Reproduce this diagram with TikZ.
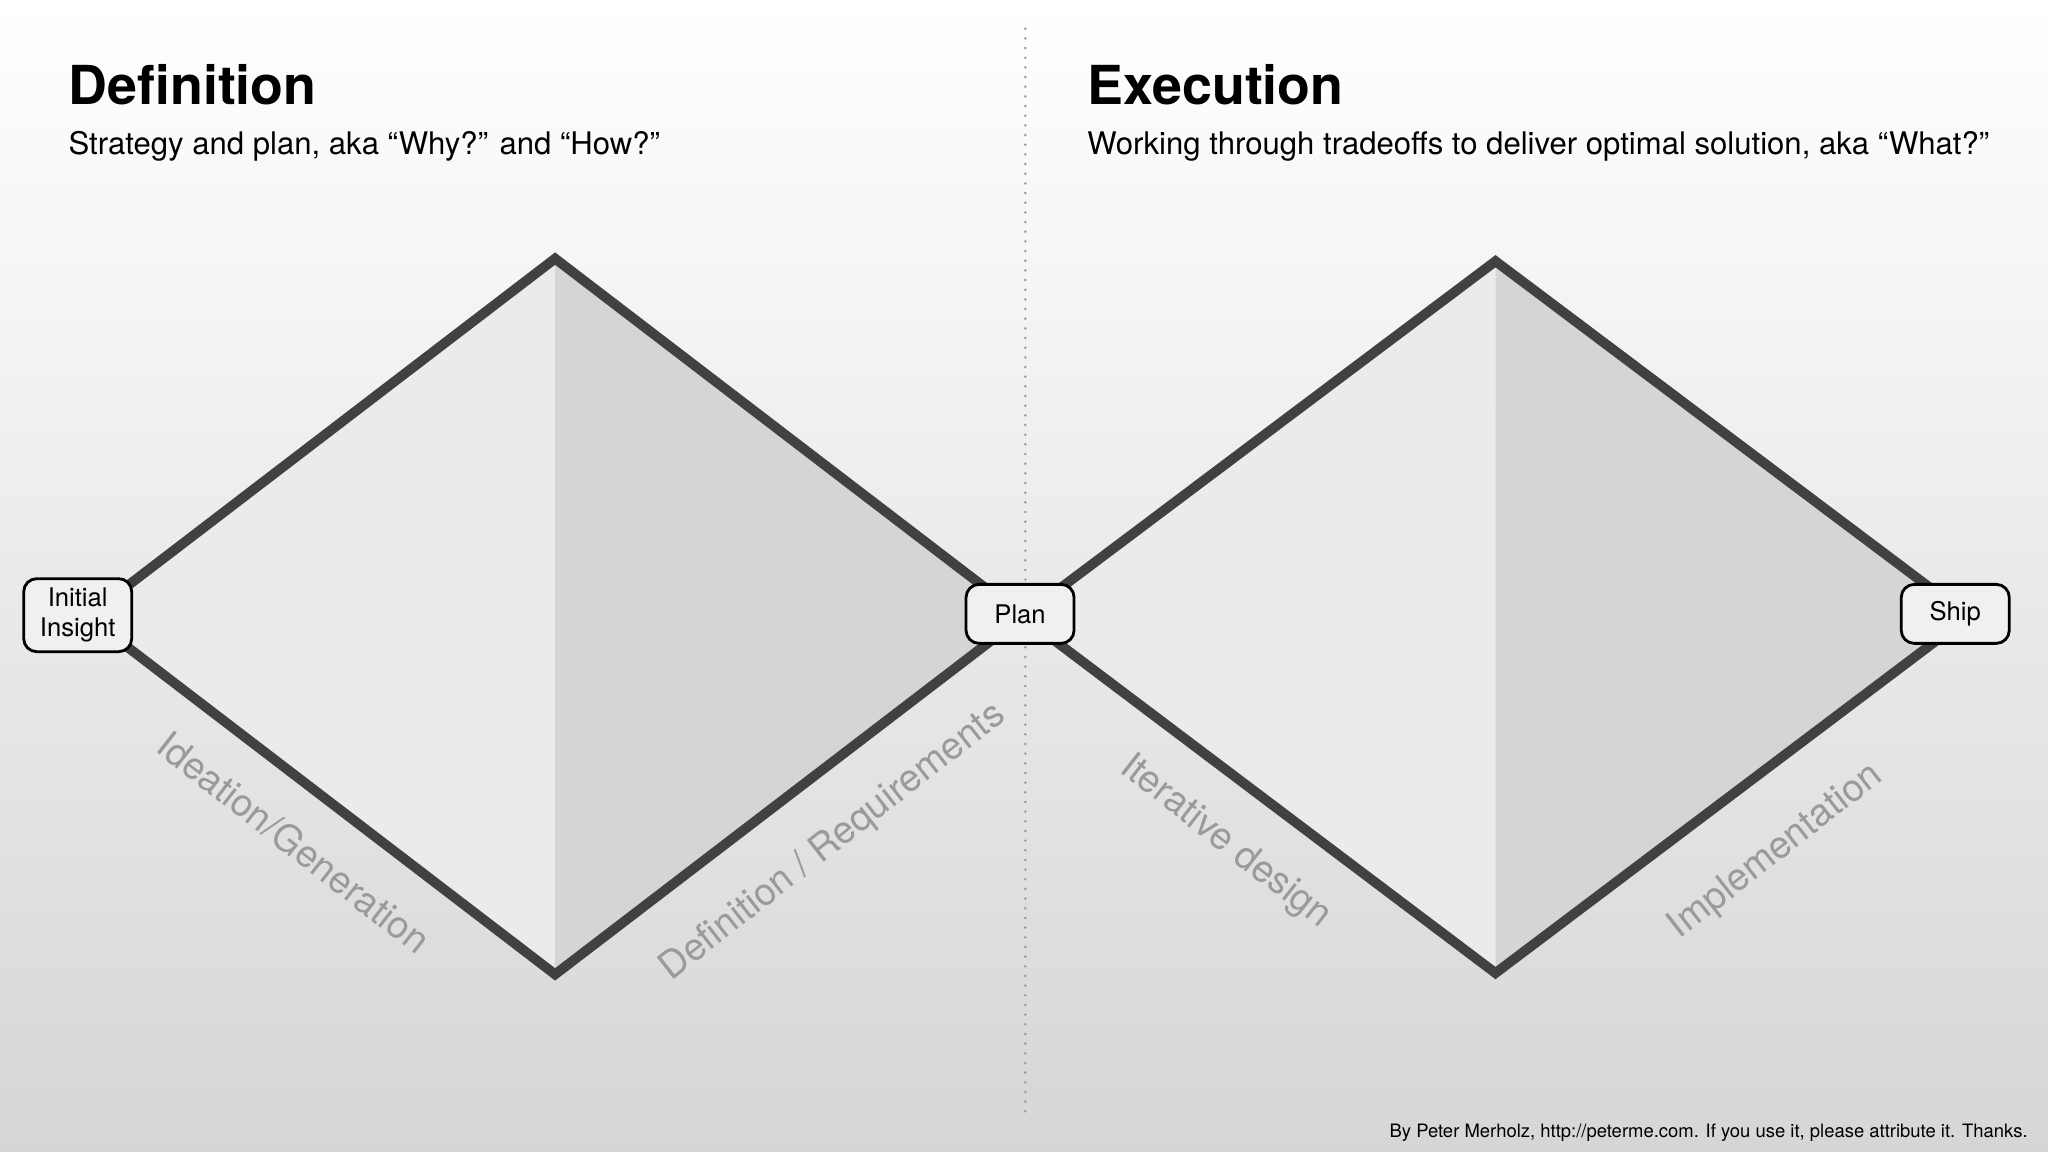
\documentclass[tikz,border=0pt]{standalone}
\usepackage{fontspec}
\setmainfont{TeX Gyre Heros}
\usetikzlibrary{positioning}
\definecolor{edgegray}{HTML}{414141}
\definecolor{lightface}{HTML}{EBEBEB}
\definecolor{darkface}{HTML}{D5D5D5}
\definecolor{labelgray}{HTML}{9A9A9A}
\definecolor{bgbottom}{HTML}{D6D6D6}
\definecolor{boxfill}{HTML}{F0F0F0}

\begin{document}
\begin{tikzpicture}[x=0.013061cm, y=-0.013061cm,
    stagebox/.style={draw, rounded corners=0.13cm, line width=0.8pt, fill=boxfill, inner sep=0pt, minimum width=1.08cm, minimum height=0.59cm, align=center, font=\fontsize{7.3pt}{8.6pt}\selectfont},
    phaselabel/.style={text=labelgray, inner sep=0pt, font=\fontsize{10.8pt}{13pt}\selectfont},
    titletext/.style={anchor=base west, inner sep=0pt, font=\fontsize{15.3pt}{18pt}\selectfont\bfseries},
    subtitletext/.style={anchor=base west, inner sep=0pt, font=\fontsize{8.85pt}{11pt}\selectfont},
    diamondline/.style={draw=edgegray, line width=2.8pt}]
      \useasboundingbox (0,0) rectangle (1568,882);
      \shade[top color=white, bottom color=bgbottom] (0,0) rectangle (1568,882);

      \coordinate (l1) at (67,472);
      \coordinate (t1) at (425,198);
      \coordinate (r1) at (783,472);
      \coordinate (b1) at (425,746);
      \coordinate (t2) at (1145,200);
      \coordinate (r2) at (1507,472);
      \coordinate (b2) at (1145,745);
      \coordinate (sep top) at (785,22);
      \coordinate (sep bot) at (785,857);

      \fill[lightface] (l1) -- (t1) -- (b1) -- cycle;
      \fill[darkface] (t1) -- (r1) -- (b1) -- cycle;
      \fill[lightface] (r1) -- (t2) -- (b2) -- cycle;
      \fill[darkface] (t2) -- (r2) -- (b2) -- cycle;

      \draw[labelgray, line width=0.8pt, line cap=round, dash pattern=on 0pt off 2.75pt] (sep top) -- (sep bot);

      \draw[diamondline] (l1) -- (t1) -- (r1) -- (b1) -- cycle;
      \draw[diamondline] (r1) -- (t2) -- (r2) -- (b2) -- cycle;

      \node[phaselabel, rotate=-38] (ideation) at (225,645) {Ideation/Generation};
      \node[phaselabel, rotate=38] (requirements) at (638,645) {Definition / Requirements};
      \node[phaselabel, rotate=-38] (iterative) at (938,645) {Iterative design};
      \node[phaselabel, rotate=38] (implementation) at (1360,652) {Implementation};

      \node[stagebox, minimum height=0.73cm] (insight) at (59.5,471) {Initial\\Insight};
      \node[stagebox] (plan) at (781,470) {Plan};
      \node[stagebox] (ship) at (1497,470) {Ship};

      \node[titletext] (definition) at (52,80) {Definition};
      \node[subtitletext] (definition sub) at (52,118) {Strategy and plan, aka “Why?” and “How?”};
      \node[titletext] (execution) at (832,80) {Execution};
      \node[subtitletext] (execution sub) at (832,118) {Working through tradeoffs to deliver optimal solution, aka “What?”};

      \node[anchor=base east, inner sep=0pt, font=\fontsize{5.25pt}{6pt}\selectfont] (credit) at (1553,871) {By Peter Merholz, http://peterme.com. If you use it, please attribute it. Thanks.};
    \end{tikzpicture}
\end{document}
